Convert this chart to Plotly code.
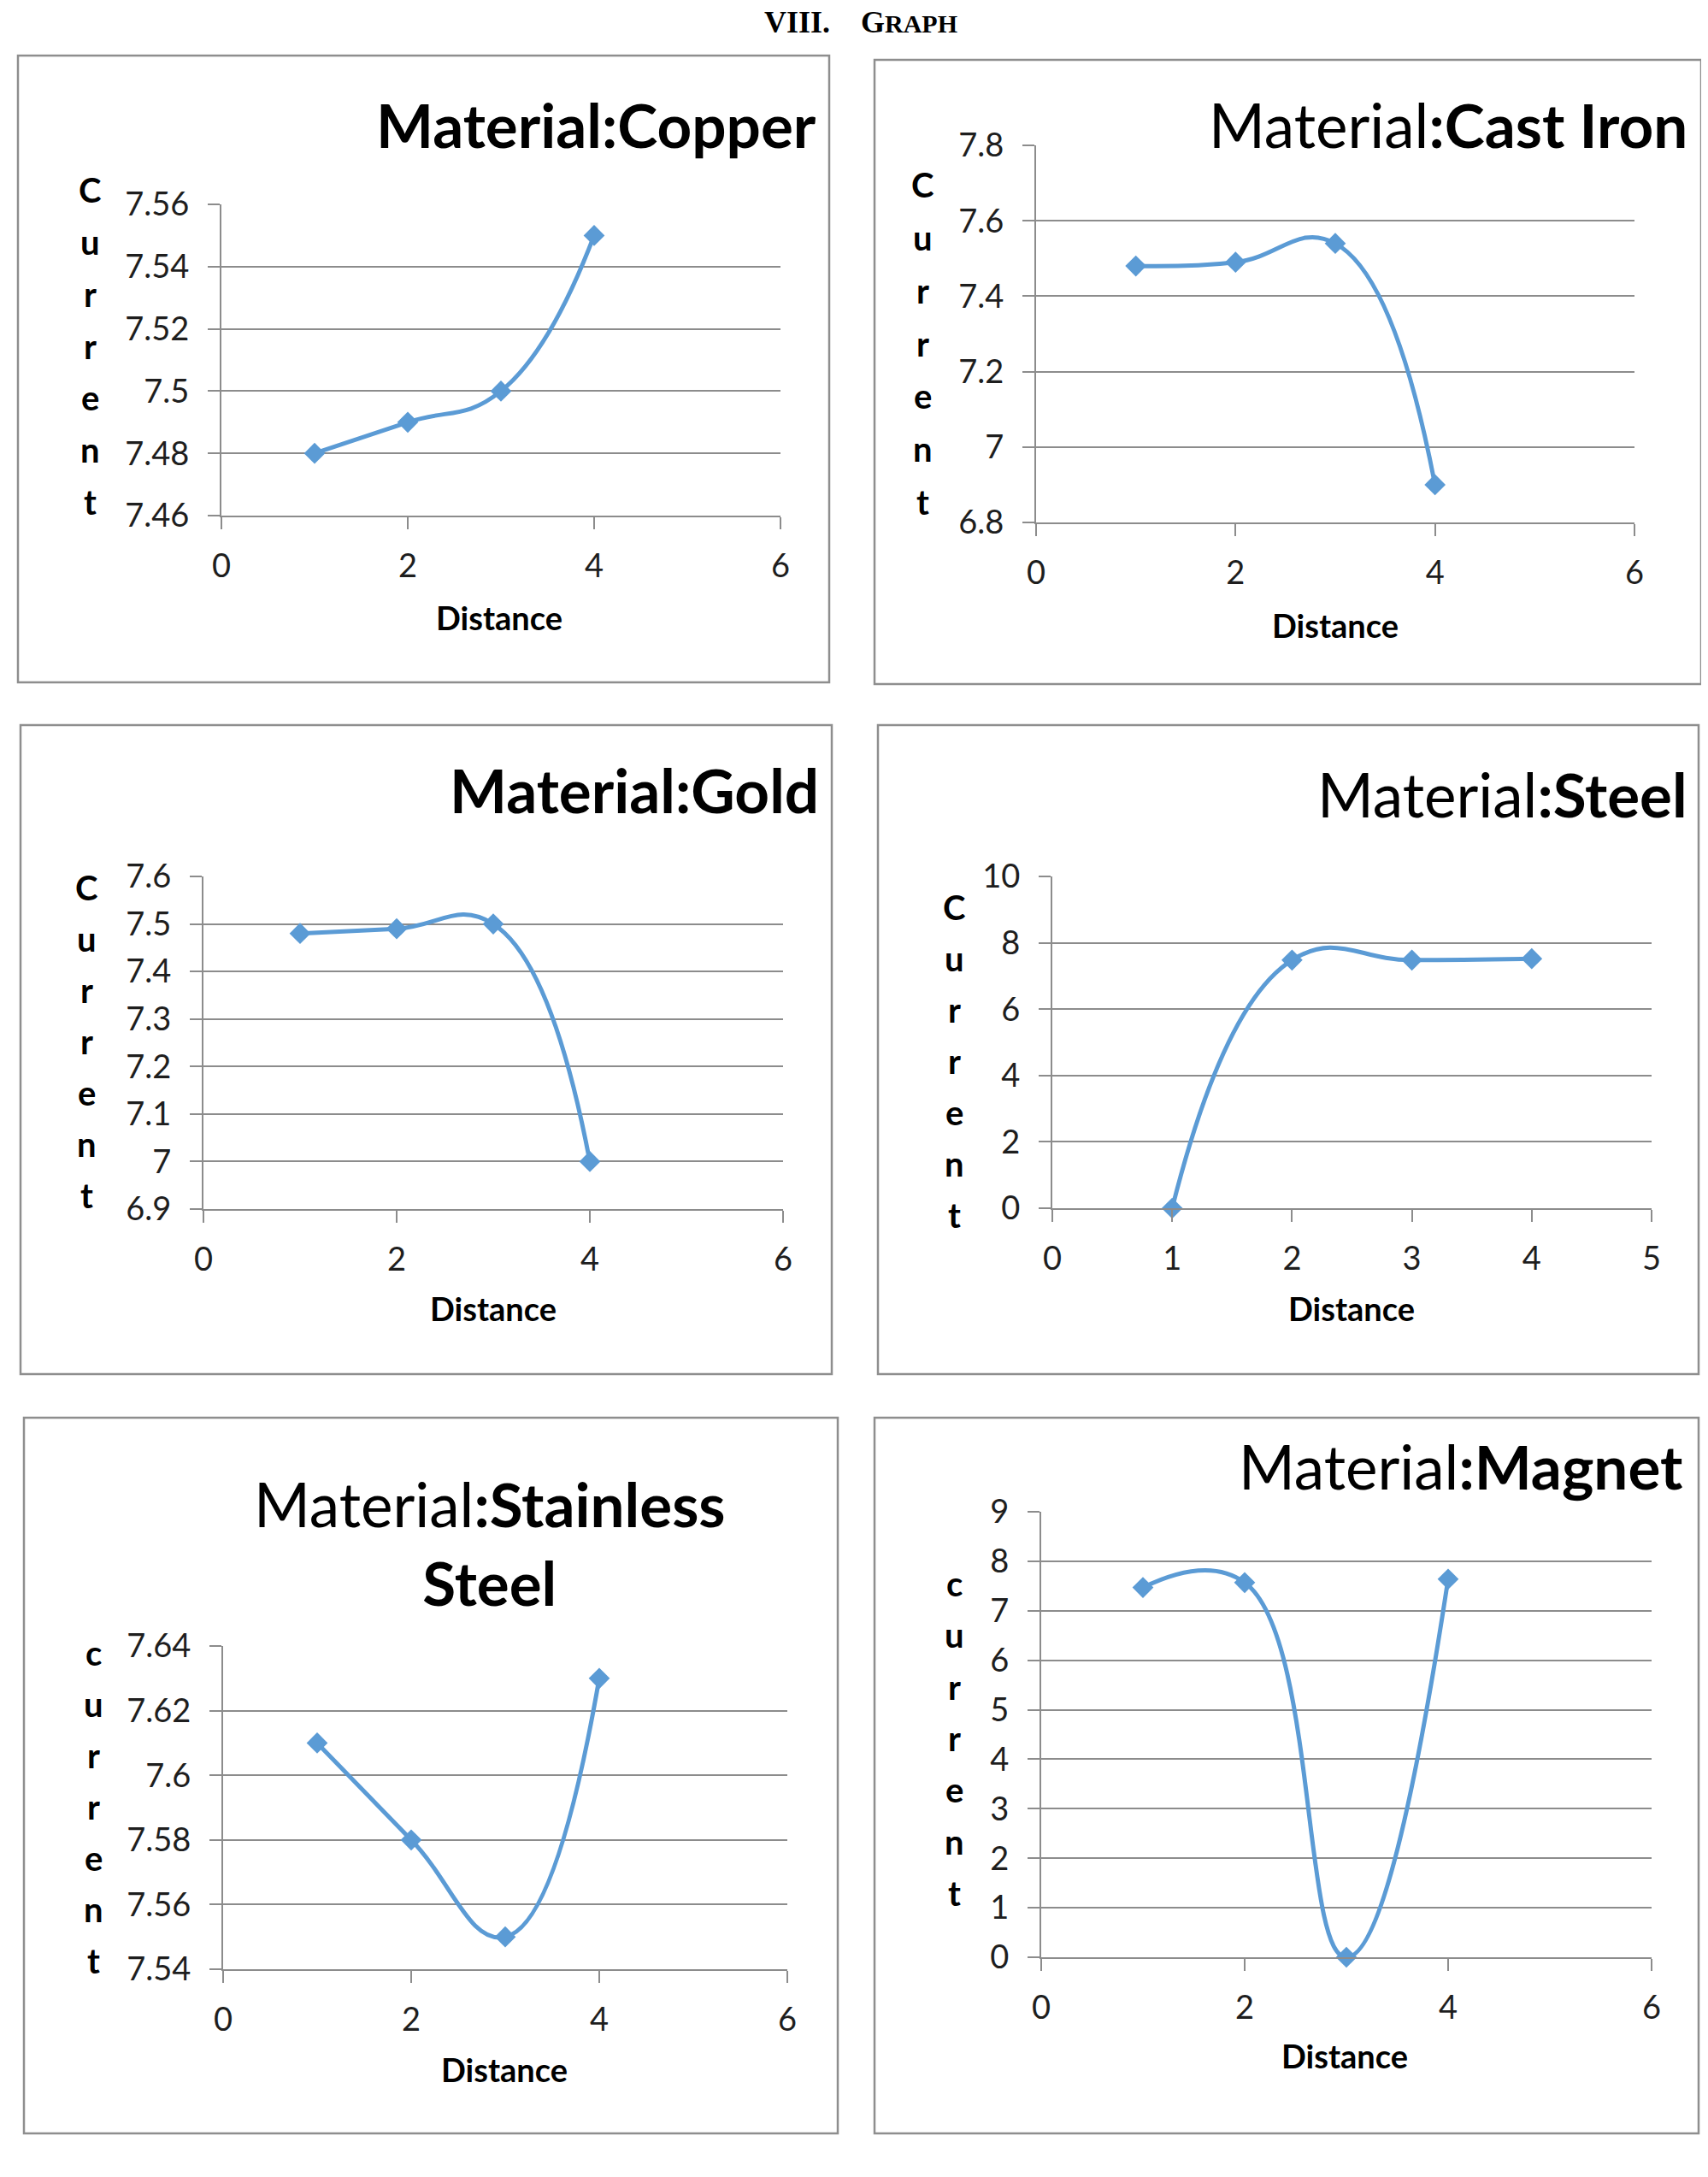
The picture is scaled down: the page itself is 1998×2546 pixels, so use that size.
import plotly.graph_objects as go

W, H = 1998, 2546
OFF = 8  # page body margin in the browser

# ---------------- data ----------------
distance = [1, 2, 3, 4]
copper = [7.48, 7.49, 7.50, 7.55]
cast_iron = [7.48, 7.49, 7.54, 6.90]
gold = [7.48, 7.49, 7.50, 7.00]
steel = [0.0, 7.48, 7.48, 7.52]
stainless = [7.61, 7.58, 7.55, 7.63]
magnet = [7.47, 7.57, 0.0, 7.64]

copper_yticks = [7.46, 7.48, 7.50, 7.52, 7.54, 7.56]
cast_iron_yticks = [6.8, 7.0, 7.2, 7.4, 7.6, 7.8]
gold_yticks = [6.9, 7.0, 7.1, 7.2, 7.3, 7.4, 7.5, 7.6]
steel_yticks = [0, 2, 4, 6, 8, 10]
stainless_yticks = [7.54, 7.56, 7.58, 7.60, 7.62, 7.64]
magnet_yticks = [0, 1, 2, 3, 4, 5, 6, 7, 8, 9]

xticks_6 = [0, 2, 4, 6]
xticks_5 = [0, 1, 2, 3, 4, 5]

titles = [
    "<b>Material:Copper</b>",
    "Material<b>:Cast Iron</b>",
    "<b>Material:Gold</b>",
    "Material<b>:Steel</b>",
    "Material<b>:Stainless</b><br><b>Steel</b>",
    "Material<b>:Magnet</b>",
]
ylabels = ["Current", "Current", "Current", "Current", "current", "current"]
xlabel = "Distance"
header = "<b>VIII.    G<span style='font-size:30px'>RAPH</span></b>"

series = [copper, cast_iron, gold, steel, stainless, magnet]
yticks = [copper_yticks, cast_iron_yticks, gold_yticks, steel_yticks,
          stainless_yticks, magnet_yticks]
xticks = [xticks_6, xticks_6, xticks_6, xticks_5, xticks_6, xticks_6]

# ---------------- layout geometry (pixels) ----------------
panels = [
    dict(border=(21, 65, 970, 798), plot=(259, 239, 913, 603),
         title=(957, 146, "right"), letters=(105, 222, 587), xt=(584, 722)),
    dict(border=(1023, 70, 1990, 800), plot=(1212, 170, 1912, 611),
         title=(1976, 146, "right"), letters=(1079, 216, 587), xt=(1562, 731)),
    dict(border=(24, 848, 973, 1607), plot=(238, 1025, 916, 1414),
         title=(960, 923, "right"), letters=(101, 1038, 1398), xt=(577, 1530)),
    dict(border=(1027, 848, 1987, 1607), plot=(1231, 1025, 1932, 1413),
         title=(1976, 928, "right"), letters=(1116, 1061, 1421), xt=(1581, 1530)),
    dict(border=(28, 1658, 980, 2495), plot=(261, 1925, 921, 2303),
         title=(573, 1805, "center"), letters=(109, 1933, 2293), xt=(590, 2420)),
    dict(border=(1023, 1658, 1987, 2495), plot=(1218, 1768, 1932, 2289),
         title=(1971, 1714, "right"), letters=(1116, 1852, 2214), xt=(1573, 2404)),
]

LINE_COLOR = "#5B9BD5"
GRID = "#8C8C8C"
TXT = "#1E1E1E"
FONT = "Lato"


def px(x):
    return (x - OFF) / W


def py(y):
    return 1 - (y - OFF) / H


fig = go.Figure()
shapes = []
annotations = []

for i, p in enumerate(panels):
    n = i + 1
    xa = "x" if n == 1 else f"x{n}"
    ya = "y" if n == 1 else f"y{n}"
    x0, y0, x1, y1 = p["plot"]

    fig.add_trace(go.Scatter(
        x=distance, y=series[i], xaxis=xa, yaxis=ya,
        mode="lines+markers",
        line=dict(color=LINE_COLOR, width=5, shape="spline", smoothing=1.3),
        marker=dict(symbol="diamond", size=19, color=LINE_COLOR),
        showlegend=False, cliponaxis=False,
    ))

    yt = yticks[i]
    xt = xticks[i]
    fig.layout[f"xaxis{'' if n == 1 else n}"] = dict(
        domain=[px(x0), px(x1)], anchor=ya,
        range=[xt[0], xt[-1]], tickvals=xt, ticktext=[f"{v:g}" for v in xt],
        showgrid=False, zeroline=False, showline=True, linecolor=GRID, linewidth=2,
        ticks="outside", ticklen=14, tickwidth=2, tickcolor=GRID,
        tickfont=dict(family=FONT, size=38, color=TXT), ticklabelstandoff=10,
        fixedrange=True,
    )
    fig.layout[f"yaxis{'' if n == 1 else n}"] = dict(
        domain=[py(y1), py(y0)], anchor=xa,
        range=[yt[0], yt[-1]], tickvals=yt, ticktext=[f"{v:g}" for v in yt],
        showgrid=True, gridcolor=GRID, gridwidth=2,
        zeroline=False, showline=True, linecolor=GRID, linewidth=2,
        ticks="outside", ticklen=14, tickwidth=2, tickcolor=GRID,
        tickfont=dict(family=FONT, size=38, color=TXT), ticklabelstandoff=14,
        fixedrange=True,
    )

    bx0, by0, bx1, by1 = p["border"]
    shapes.append(dict(type="rect", xref="paper", yref="paper",
                       x0=px(bx0), x1=px(bx1), y0=py(by1), y1=py(by0),
                       line=dict(color="#8E8E8E", width=2.5), layer="below"))

    tx, ty, anc = p["title"]
    annotations.append(dict(text=titles[i], xref="paper", yref="paper",
                            x=px(tx), y=py(ty), xanchor=anc, yanchor="middle",
                            showarrow=False, align="center",
                            font=dict(family=FONT, size=71, color="#000000")))

    lx, ly0, ly1 = p["letters"]
    word = ylabels[i]
    step = (ly1 - ly0) / (len(word) - 1)
    for k, ch in enumerate(word):
        annotations.append(dict(text=f"<b>{ch}</b>", xref="paper", yref="paper",
                                x=px(lx), y=py(ly0 + k * step),
                                xanchor="center", yanchor="middle", showarrow=False,
                                font=dict(family=FONT, size=40, color="#000000")))

    xx, xy = p["xt"]
    annotations.append(dict(text=f"<b>{xlabel}</b>", xref="paper", yref="paper",
                            x=px(xx), y=py(xy), xanchor="center", yanchor="middle",
                            showarrow=False,
                            font=dict(family=FONT, size=38, color="#000000")))

# page header at the very top
annotations.append(dict(
    text=header, xref="paper", yref="paper", x=px(1007), y=py(4),
    xanchor="center", yanchor="top", showarrow=False,
    font=dict(family="Liberation Serif", size=36, color="#000000")))

fig.update_layout(
    width=W, height=H,
    margin=dict(l=0, r=0, t=0, b=0, pad=0, autoexpand=False),
    paper_bgcolor="white", plot_bgcolor="white",
    shapes=shapes, annotations=annotations,
)

fig.write_html("out.html")
